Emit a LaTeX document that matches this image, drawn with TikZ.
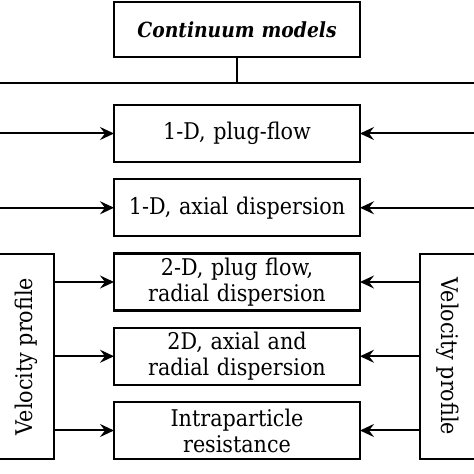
\documentclass[tikz,border=0pt]{standalone}
\usepackage{fontspec}
\setmainfont{DejaVu Serif Condensed}
\usetikzlibrary{arrows.meta, positioning}

\begin{document}
\begin{tikzpicture}[
    x=1pt, y=1pt,
    node distance=17.25pt,
    line width=2.2pt,
    model/.style={rectangle, draw, outer sep=0pt, minimum width=246pt, minimum height=57pt, text width=240pt, align=center, inner sep=0pt, font=\fontsize{23}{26}\selectfont},
    title/.style={model, minimum height=55pt, font=\fontsize{20.8}{26}\selectfont\bfseries\itshape},
    profile/.style={rectangle, draw, outer sep=0pt, minimum width=205pt, minimum height=56pt, inner sep=0pt, font=\fontsize{23}{26}\selectfont},
    arrow/.style={line width=2pt, -{Stealth[length=14pt, width=13pt, inset=5pt]}}
]
\useasboundingbox (0,0) rectangle (474,474);

% Title
\node[title] (cont) at (237,444.5) {Continuum models};

% Model boxes
\node[model, below=48pt of cont] (pf1) {1-D, plug-flow};
\node[model, below=of pf1] (ad1) {1-D, axial dispersion};
\node[model, below=of ad1] (pf2) {2-D, plug flow,\\radial dispersion};
\node[model, below=of pf2] (ad2) {2D, axial and\\radial dispersion};
\node[model, below=of ad2] (intra) {Intraparticle\\resistance};

% Velocity profiles
\node[profile, rotate=90] (vleft) at (26,117.5) {Velocity profile};
\node[profile, rotate=-90] (vright) at (448,117.5) {Velocity profile};

% Edges of the picture
\coordinate (ledge) at (0,391);
\coordinate (redge) at (474,391);

% Lines
\draw (ledge) -- (redge);
\draw (cont.south) -- (cont.south |- ledge);

% Arrows
\draw[arrow] (pf1.west -| ledge) -- (pf1.west);
\draw[arrow] (pf1.east -| redge) -- (pf1.east);
\draw[arrow] (ad1.west -| ledge) -- (ad1.west);
\draw[arrow] (ad1.east -| redge) -- (ad1.east);
\draw[arrow] (pf2.west -| vleft.south) -- (pf2.west);
\draw[arrow] (pf2.east -| vright.south) -- (pf2.east);
\draw[arrow] (ad2.west -| vleft.south) -- (ad2.west);
\draw[arrow] (ad2.east -| vright.south) -- (ad2.east);
\draw[arrow] (intra.west -| vleft.south) -- (intra.west);
\draw[arrow] (intra.east -| vright.south) -- (intra.east);

\end{tikzpicture}
\end{document}
